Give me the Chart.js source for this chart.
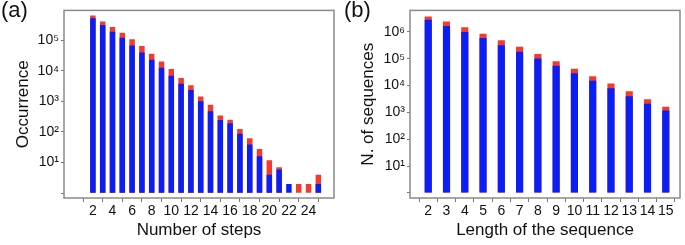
<!DOCTYPE html>
<html>
<head>
<meta charset="utf-8">
<script src="https://cdn.jsdelivr.net/npm/chart.js@4"></script>
<style>
  body { margin: 0; background: #fff; }
  .panel { position: absolute; top: 0; }
  .tag { position: absolute; top: -3px; font: 22px "Liberation Sans", Arial, sans-serif; color: #111; }
</style>
</head>
<body>
<div class="panel" style="left:0px"><canvas id="chartA" width="340" height="245"></canvas></div>
<div class="panel" style="left:340px"><canvas id="chartB" width="345" height="245"></canvas></div>
<div class="tag" style="left:1px">(a)</div>
<div class="tag" style="left:344px">(b)</div>

<script>
// ===== Data panel (a): number of steps =====
const stepsA = [2, 3, 4, 5, 6, 7, 8, 9, 10, 11, 12, 13, 14, 15, 16, 17, 18, 19, 20, 21, 22, 23, 24, 25];
const blueA  = [516000, 309000, 186000, 118000, 67000, 39000, 22900, 12600, 6830, 3780, 2330, 1000,
                478, 246, 193, 88, 39, 16, 4, 6, 2, null, null, 2];
const redA   = [116000, 98000, 82000, 56000, 40000, 24500, 12600, 7500, 4470, 1950, 1040, 450,
                302, 102, 59, 36, 24, 12, 8, 1, null, 2, 2, 2];
const xTicksA = [2, 4, 6, 8, 10, 12, 14, 16, 18, 20, 22, 24];
const yTicksA = [1, 10, 100, 1000, 10000, 100000];
const yLabelsA = ['', '10¹', '10²', '10³', '10⁴', '10⁵'];

// ===== Data panel (b): length of the sequence =====
const lengthB = [2, 3, 4, 5, 6, 7, 8, 9, 10, 11, 12, 13, 14, 15];
const blueB   = [2800000, 1650000, 980000, 585000, 320000, 180000, 102000, 55000, 28800, 15000,
                 7900, 4000, 2100, 1170];
const redB    = [900000, 800000, 500000, 265000, 170000, 100000, 49000, 26000, 13900, 7300,
                 4100, 2100, 1000, 450];
const xTicksB = [2, 3, 4, 5, 6, 7, 8, 9, 10, 11, 12, 13, 14, 15];
const yTicksB = [1, 10, 100, 1000, 10000, 100000, 1000000];
const yLabelsB = ['', '10¹', '10²', '10³', '10⁴', '10⁵', '10⁶'];

const FONT = '"Liberation Sans", Arial, sans-serif';

// frame round the plot area, Mathematica style
const framePlugin = {
  id: 'frame',
  afterDraw(chart) {
    const a = chart.chartArea;
    const ctx = chart.ctx;
    ctx.save();
    ctx.strokeStyle = '#8a8a8a';
    ctx.lineWidth = 1.5;
    ctx.strokeRect(a.left, a.top, a.right - a.left, a.bottom - a.top);
    ctx.restore();
  }
};

function toPoints(xs, ys) {
  return xs.map((x, i) => ({ x: x, y: ys[i] }));
}

function makeChart(id, cfg) {
  const ctx = document.getElementById(id).getContext('2d');
  return new Chart(ctx, {
    type: 'bar',
    data: {
      datasets: [
        { data: toPoints(cfg.xs, cfg.blue), backgroundColor: '#0a1ff8', base: 1, borderWidth: 0 },
        { data: toPoints(cfg.xs, cfg.red),  backgroundColor: '#f23b2c', base: 1, borderWidth: 0 }
      ]
    },
    options: {
      responsive: false,
      animation: false,
      devicePixelRatio: 1,
      categoryPercentage: 1,
      barPercentage: cfg.barPct,
      layout: { padding: { left: cfg.padLeft, right: cfg.padRight, top: 7, bottom: 0 } },
      plugins: { legend: { display: false }, tooltip: { enabled: false } },
      scales: {
        x: {
          type: 'linear',
          stacked: true,
          min: cfg.xMin,
          max: cfg.xMax,
          afterBuildTicks: s => { s.ticks = cfg.xTicks.map(v => ({ value: v })); },
          afterFit: s => { s.height = 47; },
          ticks: { color: '#111', font: { family: FONT, size: 14 }, padding: 1, maxRotation: 0, autoSkip: false,
                   callback: v => String(v) },
          grid: { drawOnChartArea: false, tickLength: 4, color: '#777' },
          border: { display: false },
          title: { display: true, text: cfg.xTitle, color: '#111', font: { family: FONT, size: 17 }, padding: { top: 0, bottom: 4 } }
        },
        y: {
          type: 'logarithmic',
          stacked: true,
          min: cfg.yMin,
          max: cfg.yMax,
          afterBuildTicks: s => { s.ticks = cfg.yTicks.map(v => ({ value: v })); },
          afterFit: s => { s.width = cfg.yWidth; },
          ticks: { color: '#111', font: { family: FONT, size: 14 }, padding: 2, autoSkip: false,
                   callback: (v, i) => cfg.yLabels[i] },
          grid: { drawOnChartArea: false, tickLength: 3, color: '#777' },
          border: { display: false },
          title: { display: true, text: cfg.yTitle, color: '#111', font: { family: FONT, size: 17 }, padding: { top: 4, bottom: 0 } }
        }
      }
    },
    plugins: [framePlugin]
  });
}

const chartA = makeChart('chartA', {
  xs: stepsA, blue: blueA, red: redA, xTicks: xTicksA, yTicks: yTicksA, yLabels: yLabelsA,
  xMin: 0.2, xMax: 25.45, yMin: 0.71, yMax: 930000, barPct: 0.56,
  padLeft: 9, padRight: 6, yWidth: 55,
  xTitle: 'Number of steps', yTitle: 'Occurrence'
});

const chartB = makeChart('chartB', {
  xs: lengthB, blue: blueB, red: redB, xTicks: xTicksB, yTicks: yTicksB, yLabels: yLabelsB,
  xMin: 1.53, xMax: 15.25, yMin: 0.65, yMax: 6300000, barPct: 0.39,
  padLeft: 14, padRight: 5, yWidth: 56,
  xTitle: 'Length of the sequence', yTitle: 'N. of sequences'
});
</script>
</body>
</html>
